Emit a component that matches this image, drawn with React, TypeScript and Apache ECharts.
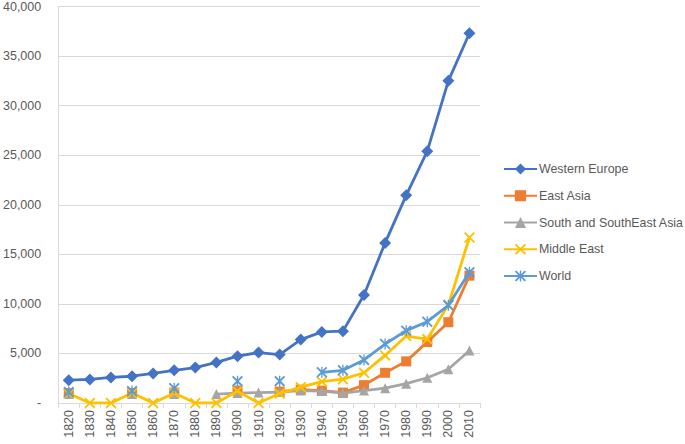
import React, { useEffect, useRef } from "react";
import * as echarts from "echarts";

const years = ["1820","1830","1840","1850","1860","1870","1880","1890","1900","1910","1920","1930","1940","1950","1960","1970","1980","1990","2000","2010"];
const westernEurope = [2300, 2380, 2580, 2700, 2980, 3300, 3570, 4090, 4720, 5090, 4890, 6400, 7170, 7250, 10900, 16150, 20950, 25400, 32500, 37300];
const eastAsia = [1000, null, null, 1000, null, 1050, null, null, 1250, null, 1150, 1350, 1250, 1050, 1800, 3050, 4200, 6150, 8150, 12850];
const southAsia = [900, null, null, 900, null, 900, null, 900, 1000, 1050, 1100, 1250, 1200, 1000, 1250, 1500, 1950, 2550, 3400, 5300];
const middleEast = [950, 0, 0, 1000, 0, 1000, 0, 0, 1200, 0, 950, 1600, 2150, 2400, 3050, 4800, 6750, 6450, 9900, 16700];
const world = [1100, null, null, 1200, null, 1500, null, null, 2200, null, 2200, null, 3100, 3300, 4350, 5950, 7300, 8200, 9850, 13200];
const yTicks = [0, 5000, 10000, 15000, 20000, 25000, 30000, 35000, 40000];

const xPath = "path://M0,1.2 L1.2,0 L10,8.8 L8.8,10 Z M8.8,0 L10,1.2 L1.2,10 L0,8.8 Z";
const starPath = "path://M0,1.2 L1.2,0 L10,8.8 L8.8,10 Z M8.8,0 L10,1.2 L1.2,10 L0,8.8 Z M4.4,0 L5.6,0 L5.6,10 L4.4,10 Z";

const FONT = "Liberation Sans";

export default function App() {
  const ref = useRef<HTMLDivElement>(null);
  useEffect(() => {
    if (!ref.current) return;
    const chart = echarts.init(ref.current, null, { renderer: "svg" });
    const mk = (name: string, data: any[], color: string, symbol: string, size: number, z: number) => ({
      name,
      type: "line",
      data,
      symbol,
      symbolSize: size,
      showAllSymbol: true,
      connectNulls: false,
      z,
      lineStyle: { color, width: 2.8 },
      itemStyle: { color },
    });
    chart.setOption({
      animation: false,
      textStyle: { fontFamily: FONT },
      grid: { left: 55, right: 205, top: 5, bottom: 41 },
      legend: {
        orient: "vertical",
        left: 498,
        top: 157,
        itemWidth: 33,
        itemHeight: 14,
        itemGap: 12.75,
        textStyle: { fontSize: 12.4, color: "#595959", fontFamily: FONT, padding: [0, 0, 0, -3], lineHeight: 14 },
        data: ["Western Europe", "East Asia", "South and SouthEast Asia", "Middle East", "World"],
      },
      xAxis: {
        type: "category",
        data: years,
        boundaryGap: true,
        axisLine: { show: true, lineStyle: { color: "#D9D9D9", width: 1 } },
        axisTick: { show: true, alignWithLabel: false, length: 5, lineStyle: { color: "#D9D9D9" } },
        axisLabel: { rotate: 90, interval: 0, fontSize: 12.5, color: "#595959", fontFamily: FONT, margin: 7 },
        splitLine: { show: false },
      },
      yAxis: {
        type: "value",
        min: yTicks[0],
        max: yTicks[yTicks.length - 1],
        interval: 5000,
        axisLine: { show: true, lineStyle: { color: "#D9D9D9", width: 1 } },
        axisTick: { show: false },
        axisLabel: {
          fontSize: 12.5,
          color: "#595959",
          fontFamily: FONT,
          margin: 17,
          formatter: (v: number) => (v === 0 ? "-" : v.toLocaleString("en-US")),
        },
        splitLine: { show: true, lineStyle: { color: "#D9D9D9", width: 1 } },
      },
      series: [
        mk("Western Europe", westernEurope, "#4472C4", "diamond", 12, 5),
        mk("East Asia", eastAsia, "#ED7D31", "rect", 10, 6),
        mk("South and SouthEast Asia", southAsia, "#A5A5A5", "triangle", 10, 7),
        mk("Middle East", middleEast, "#FFC000", xPath, 11, 8),
        mk("World", world, "#5B9BD5", starPath, 11, 9),
      ],
    });
    return () => chart.dispose();
  }, []);
  return <div ref={ref} style={{ width: 685, height: 444, position: "absolute", left: 0, top: 0 }} />;
}
